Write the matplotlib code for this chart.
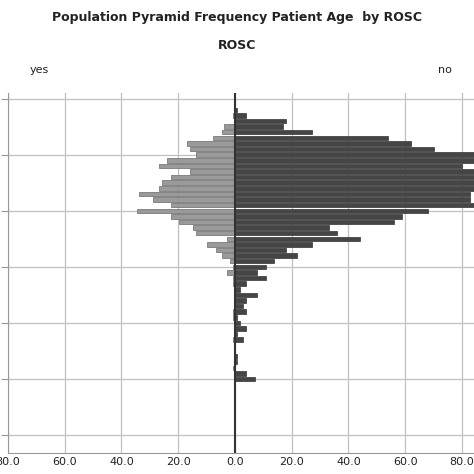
import numpy as np
import matplotlib.pyplot as plt

# ages from top (68) down to 20, one-year bins
ages = np.arange(68, 19, -1)
yes_freq = [0, 0.6, 0, 3.8, 4.7, 7.6, 16.8, 15.9, 13.9, 23.9, 26.7, 15.9, 22.7, 25.6,
            26.7, 33.8, 28.8, 22.7, 34.7, 22.7, 19.8, 14.9, 13.8, 2.7, 9.8, 6.8, 4.7,
            1.8, 0.8, 2.7, 0.6, 0.8, 0, 0, 0, 0, 0.6, 0.6, 0, 0, 0, 0.6, 0, 0, 0, 0,
            0.6, 0, 0]
no_freq = [0.8, 3.9, 18, 17, 27, 54, 62, 70, 88, 88, 80, 88, 88, 88, 88, 83, 83, 88,
           68, 59, 56, 33, 36, 44, 27, 18, 22, 13.8, 10.8, 7.9, 10.8, 3.9, 1.8, 7.9,
           3.9, 2.9, 3.9, 0.8, 1.8, 3.9, 0.8, 2.9, 0, 0, 0.8, 0.8, 0, 3.9, 7]
xticks = [-80, -60, -40, -20, 0, 20, 40, 60, 80]
yticks = [10, 20, 30, 40, 50, 60, 70]

fig = plt.figure(figsize=(4.74, 4.74), dpi=100)
ax = fig.add_axes([8 / 474, 21 / 474, 471 / 474, 360 / 474])

ax.barh(ages, [-v for v in yes_freq], height=0.8, color='#9a9a9a', edgecolor='#6a6a6a', linewidth=0.5, zorder=2)
ax.barh(ages, no_freq, height=0.8, color='#454545', edgecolor='#333333', linewidth=0.5, zorder=2)
ax.axvline(0, color='#333333', lw=1.5, zorder=3)

ax.set_xlim(-80, 86)
ax.set_ylim(6.8, 71)
ax.set_xticks(xticks)
ax.set_xticklabels([f'{abs(v):.1f}' for v in xticks], fontsize=8, color='#222222')
ax.set_yticks(yticks)
ax.set_yticklabels([])
ax.grid(True, color='#c0c0c0', lw=0.9, zorder=0)
for s in ['top', 'right']:
    ax.spines[s].set_visible(False)
ax.spines['left'].set_color('#999999')
ax.spines['bottom'].set_color('#999999')
ax.tick_params(axis='x', length=0, pad=3)
ax.tick_params(axis='y', length=5, color='#999999')

fig.text(0.5, 1 - 17 / 474, 'Population Pyramid Frequency Patient Age  by ROSC',
         ha='center', va='center', fontsize=9, fontweight='bold', color='#222222')
fig.text(0.5, 1 - 45 / 474, 'ROSC', ha='center', va='center', fontsize=9,
         fontweight='bold', color='#222222')
fig.text(30 / 474, 1 - 70 / 474, 'yes', ha='left', va='center', fontsize=8, color='#222222')
fig.text(445 / 474, 1 - 70 / 474, 'no', ha='center', va='center', fontsize=8, color='#222222')

fig.savefig('out.png', dpi=100, facecolor='white')
